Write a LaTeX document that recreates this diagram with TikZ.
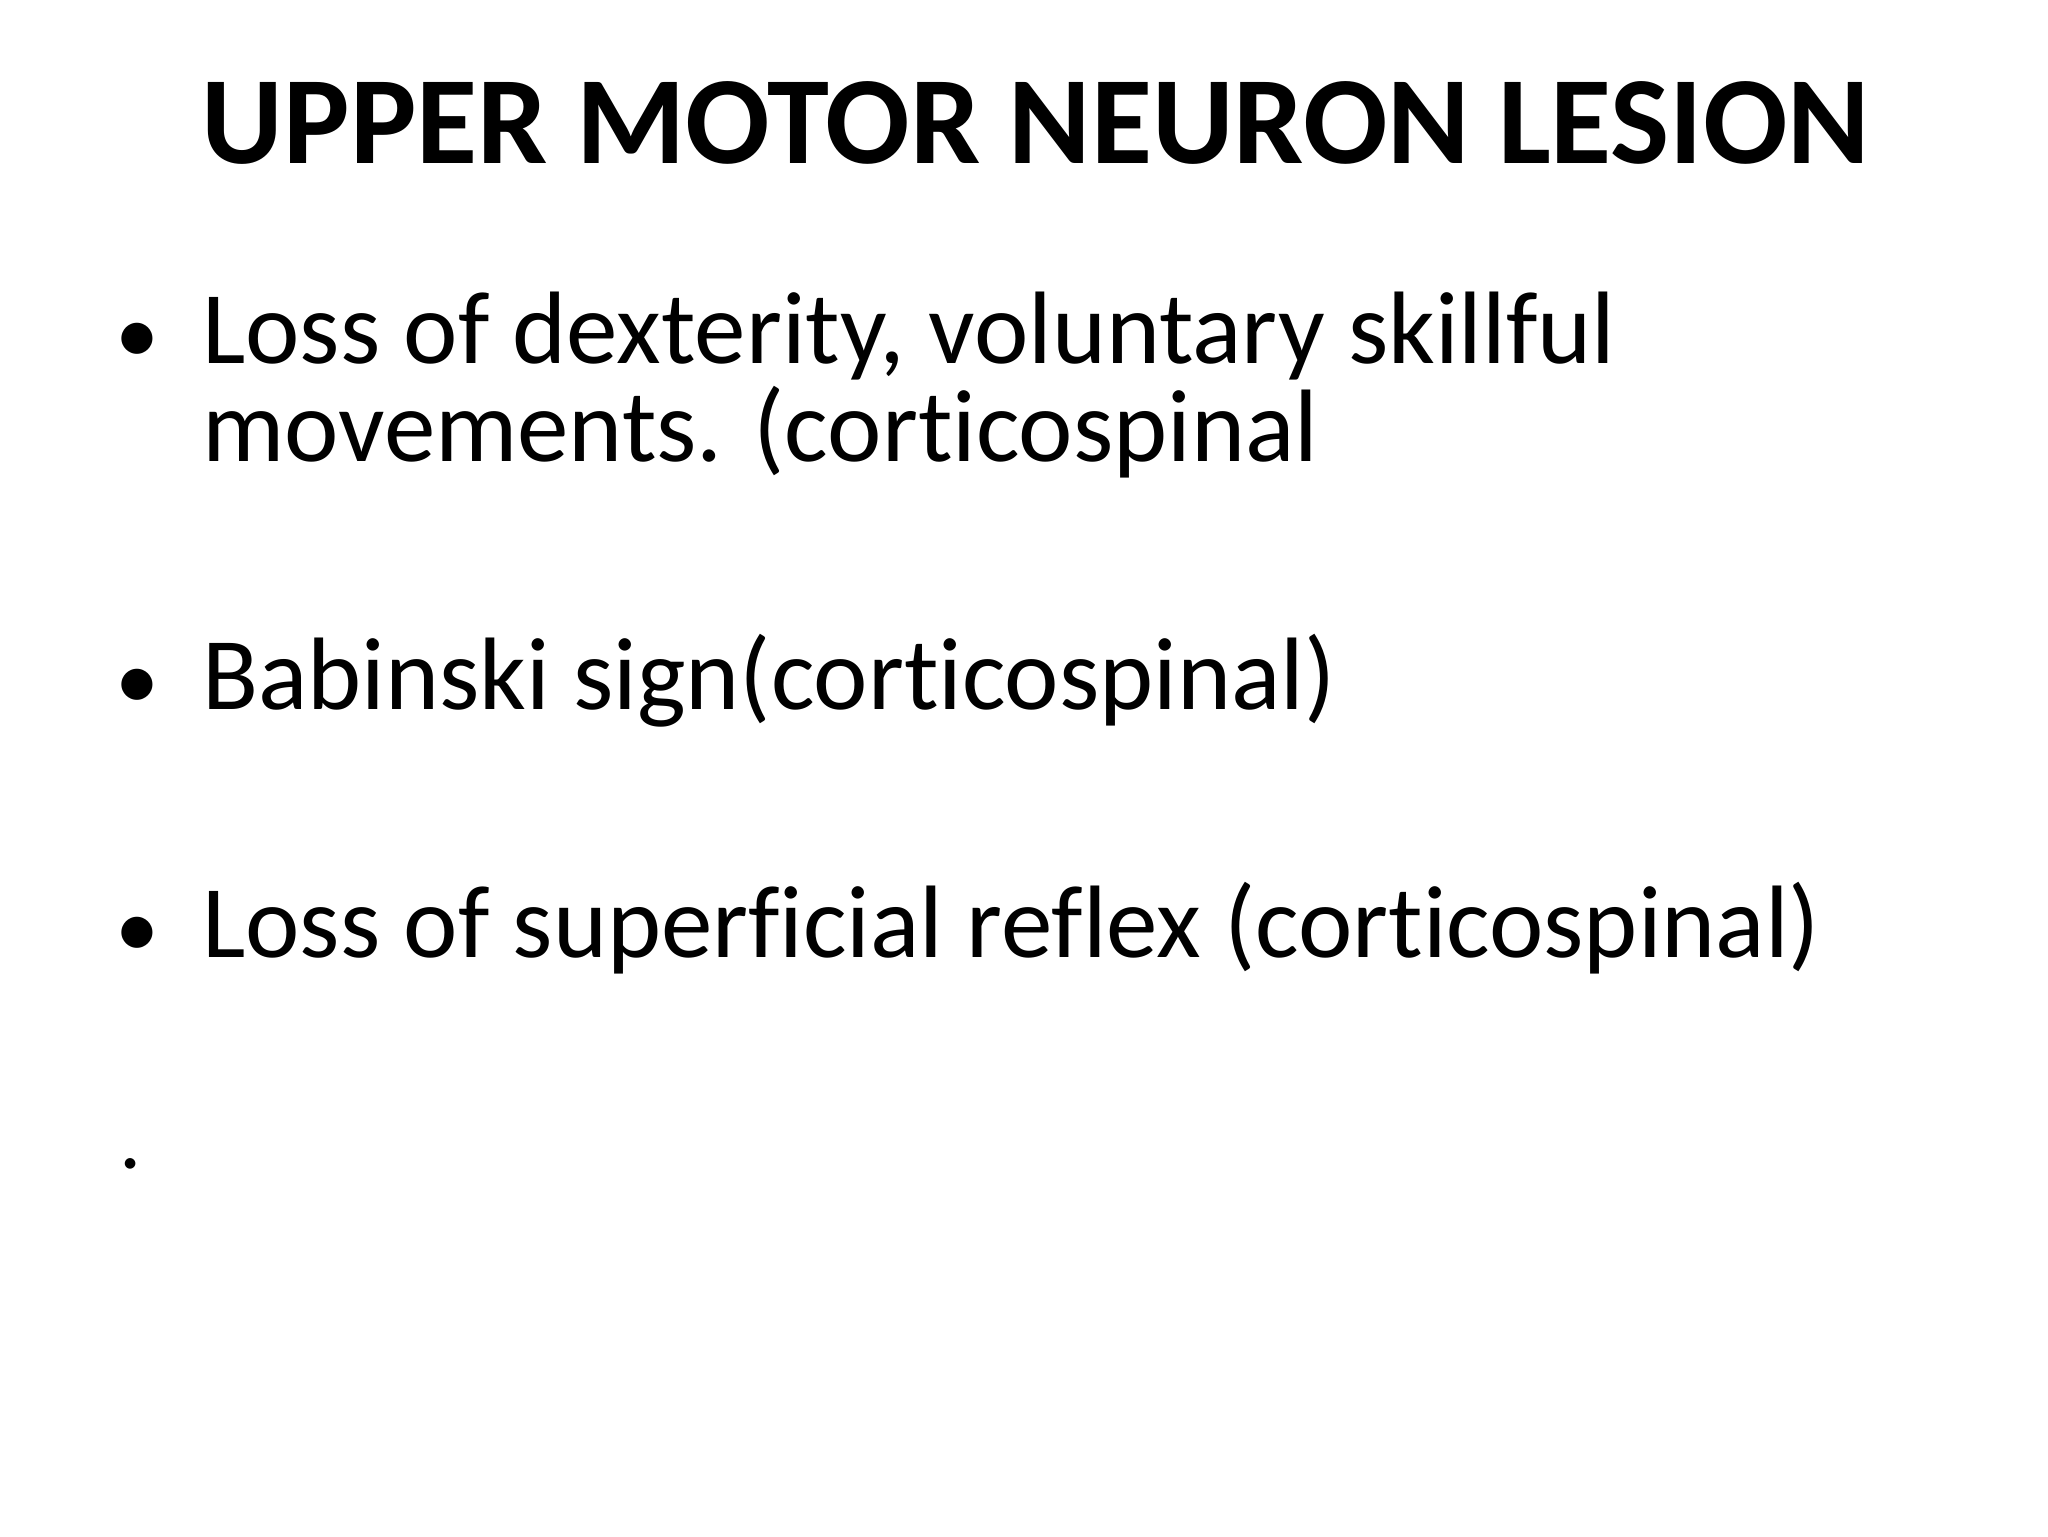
\documentclass[tikz,border=0pt]{standalone}
\usepackage{fontspec}
\setmainfont{Carlito}[Ligatures=NoCommon]
\begin{document}
\begin{tikzpicture}[x=0.5pt,y=-0.5pt,
  body/.style={inner sep=0pt,anchor=base west,font=\fontsize{51.5}{50}\selectfont},
  bul/.style={inner sep=0pt,anchor=base,font=\fontsize{44}{44}\selectfont}]
\useasboundingbox[fill=white] (0,0) rectangle (2048,1536);
\node[inner sep=0pt,anchor=base,font=\fontsize{62.5}{62}\selectfont\bfseries] (title) at (1036,163) {UPPER MOTOR NEURON LESION};
\node[bul] (b1) at (137,363) {•};
\node[body] (t1) at (202,363) {Loss of dexterity, voluntary skillful};
\node[body] (t1b) at (202,461) {movements. (corticospinal};
\node[bul] (b2) at (137,709) {•};
\node[body] (t2) at (202,709) {Babinski sign(corticospinal)};
\node[bul] (b3) at (137,957) {•};
\node[body] (t3) at (202,957) {Loss of superficial reflex (corticospinal)};
\node[bul] (dot) at (131,1168) {.};
\end{tikzpicture}
\end{document}
